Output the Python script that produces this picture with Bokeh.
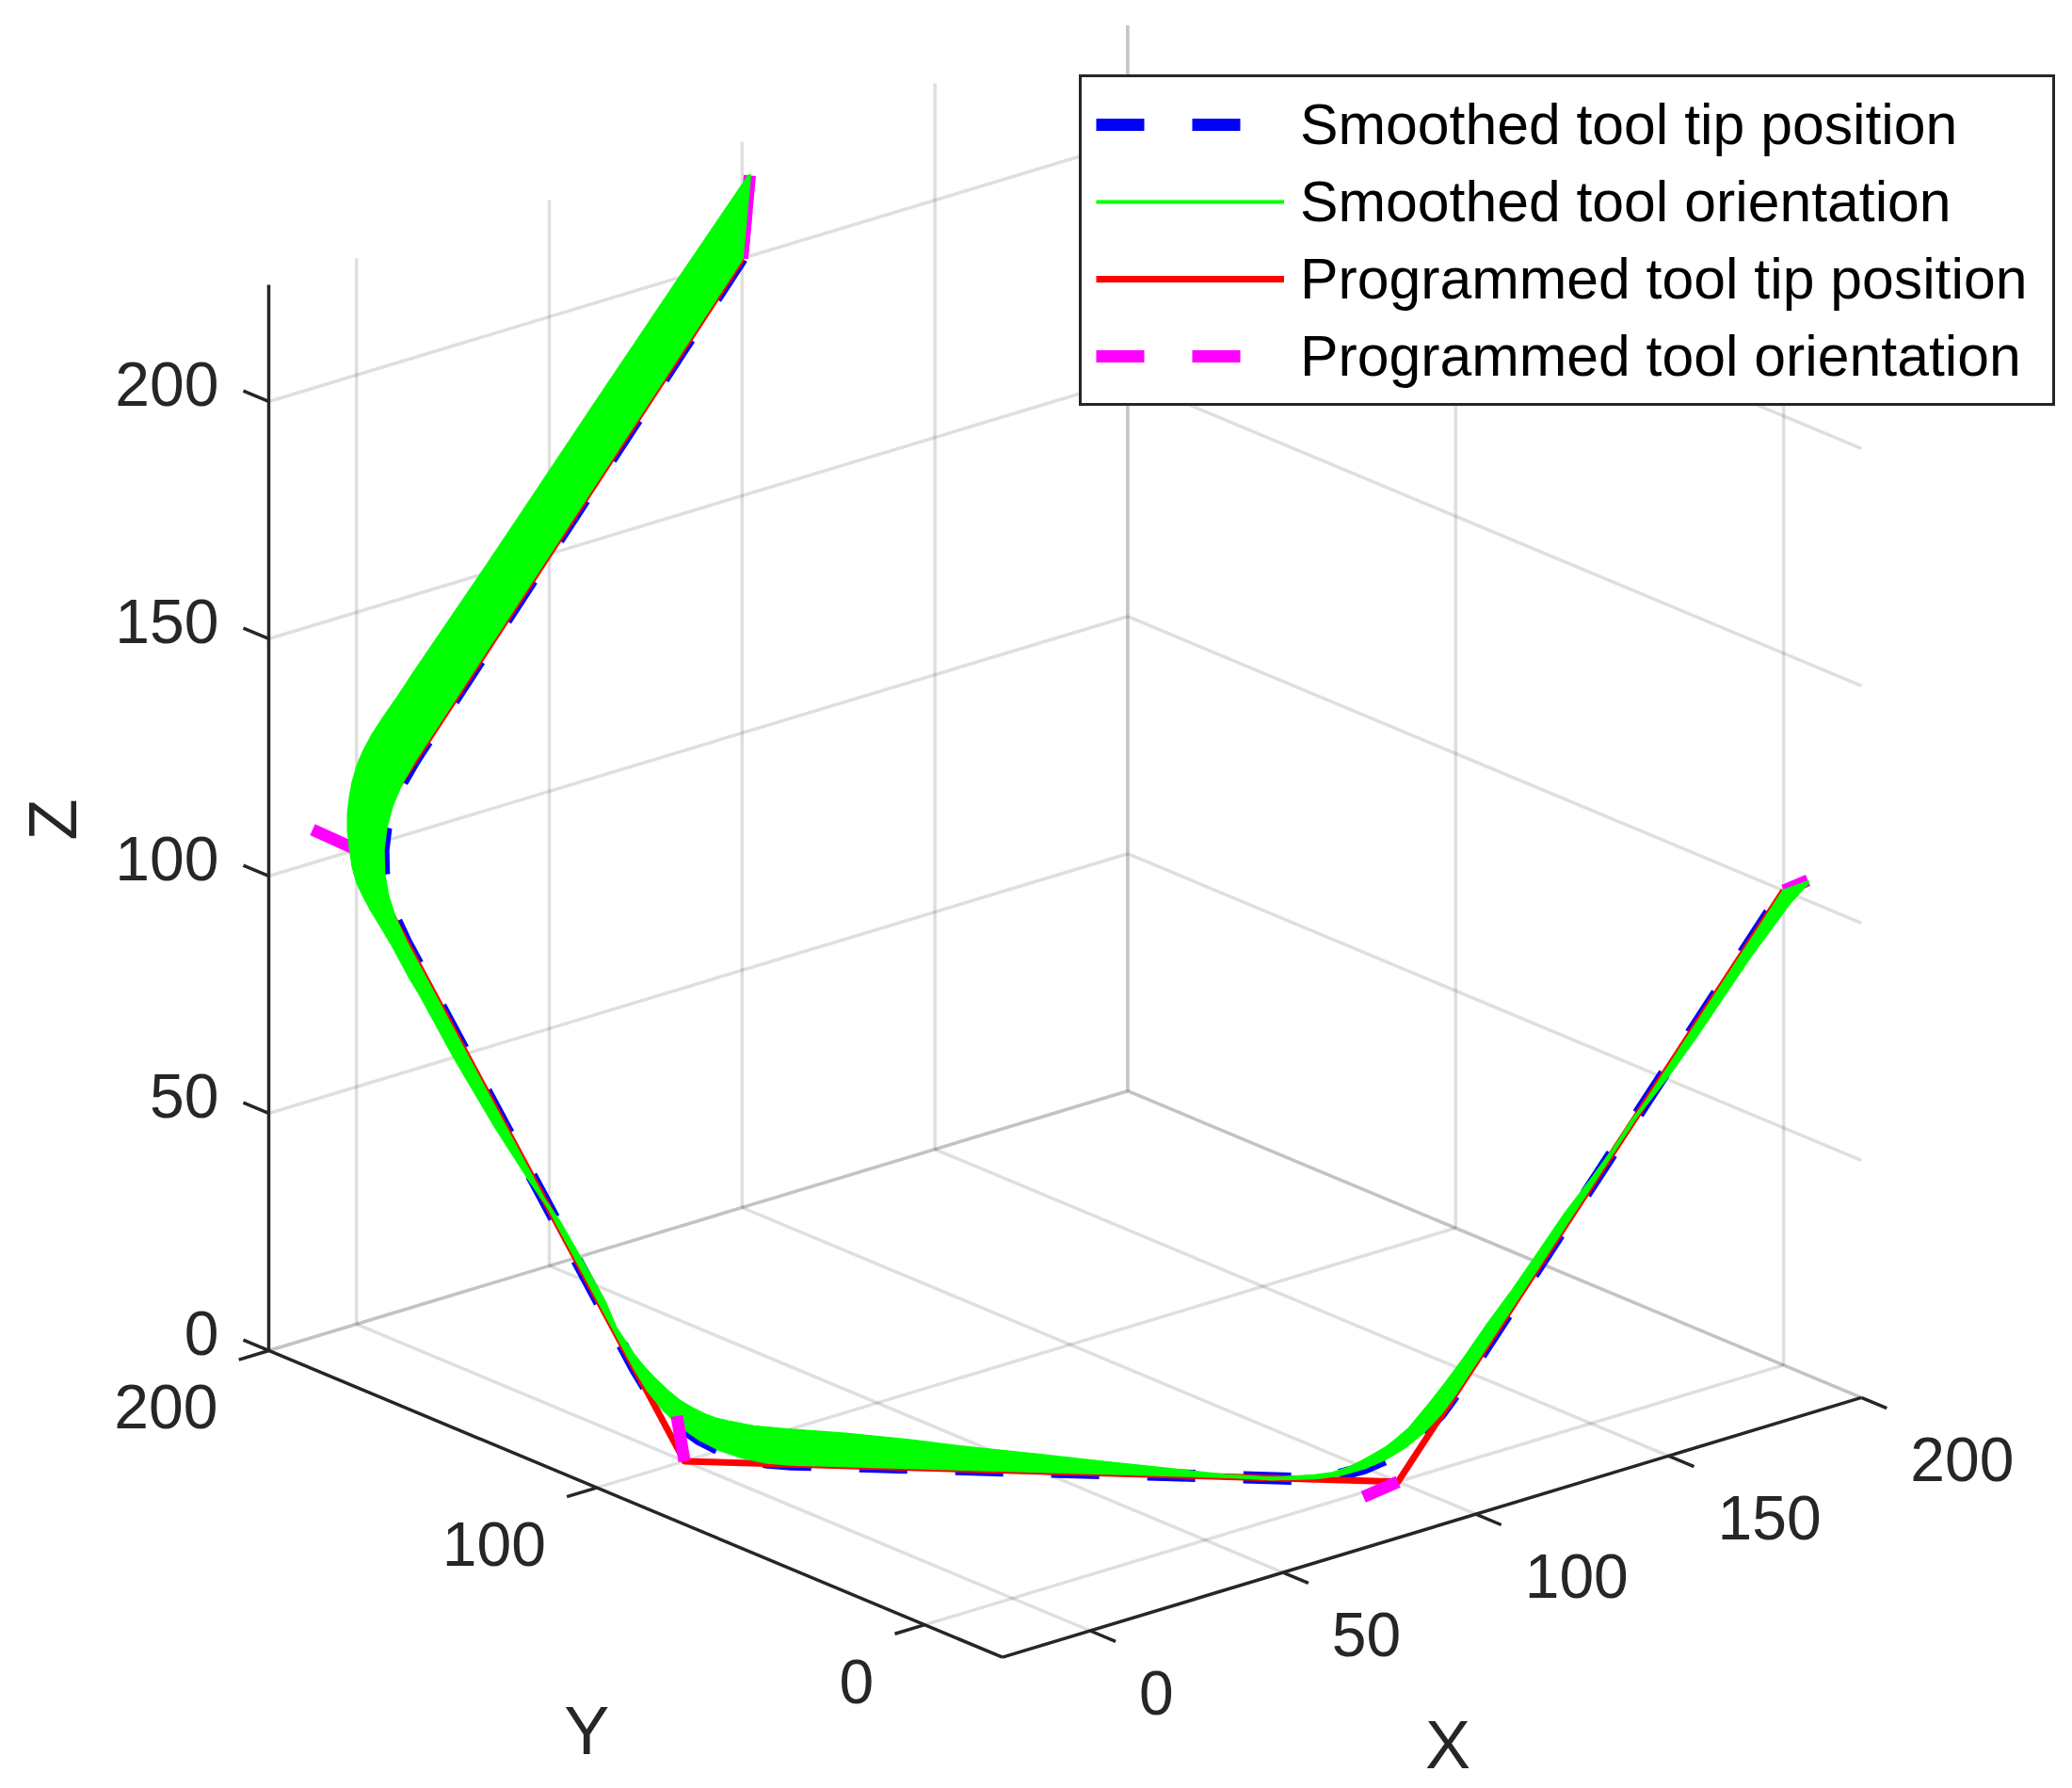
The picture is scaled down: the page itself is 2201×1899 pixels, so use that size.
import numpy as np
from bokeh.core.properties import value
from bokeh.embed import file_html
from bokeh.models import Legend, LegendItem
from bokeh.plotting import figure
from bokeh.resources import INLINE

# axis limits and ticks
x_lim = [-22.76, 200]
y_lim = [-23.7, 200]
z_lim = [0, 224.6]
x_ticks = [0, 50, 100, 150, 200]
y_ticks = [0, 100, 200]
z_ticks = [0, 50, 100, 150, 200]

# programmed tool tip path
prog_x = [100, 0, 0, 100, 200]
prog_y = [200, 200, 100, 0, 0]
prog_z = [200, 100, 0, 0, 100]

# far end of the programmed tool orientation at each programmed point
ori_x = [102, -8, -2, 91, 206.3]
ori_y = [200, 204, 100, 0, 0]
ori_z = [217, 105, 10, -1, 100.6]

# smoothed tool tip
tip_x = [100, 15, 11.48, 8.44, 5.86, 3.75, 2.11, 0.94, 0.23, 0,
         0, 0.23, 0.94, 2.11, 3.75, 5.86, 8.44, 11.48, 15,
         85, 88.75, 92.5, 96.25, 100, 103.75, 107.5, 111.25, 115, 200]
tip_y = [200, 200, 199.77, 199.06, 197.89, 196.25, 194.14, 191.56, 188.52, 185,
         115, 111.25, 107.5, 103.75, 100, 96.25, 92.5, 88.75, 85,
         15, 11.48, 8.44, 5.86, 3.75, 2.11, 0.94, 0.23, 0, 0]
tip_z = [200, 115, 111.25, 107.5, 103.75, 100, 96.25, 92.5, 88.75, 85,
         15, 11.48, 8.44, 5.86, 3.75, 2.11, 0.94, 0.23, 0,
         0, 0.23, 0.94, 2.11, 3.75, 5.86, 8.44, 11.48, 15, 100]

# far end of the smoothed tool orientation
end_x = [102, 83.7, 62.4, 34, 15.1, 10.9, 9, 7, 4.3, 2.1, 0.4, -0.8, -1.5, -2, -2, -1.5, -0.8, 0.4,
         0, 0, 0, 0, 0, 0, 0, 0, 0, 0, 0, 0, 0, 0, 0, 0, 0, 0, 0, 0, 0, 0,
         4.4, 6.1, 9.7, 14, 22.9, 31.7, 40.4, 49.3, 59, 67.5, 75.8, 82.5, 86.2, 88.3, 90.6, 92.8, 95, 96.7,
         97.2, 100.1, 103, 107.9, 112.8, 117.7, 123.3, 129.9, 135.5, 143.6, 150.1, 155.9, 161.1, 169.9, 177.7, 191.6, 201.7, 206.3]
end_y = [200, 200, 200, 200, 200, 200, 200, 200, 200, 200, 200, 200, 200, 200, 200, 200, 200, 200,
         197.5, 195.2, 192, 188.9, 183.7, 180.3, 169.9, 157.4, 147, 138.3, 131.2, 124.4, 121.1, 115.4, 112.5, 109.6, 105.6, 101.9, 98.2, 94.1, 94.1, 94.1,
         95.6, 93.9, 90.3, 86, 77.1, 68.3, 59.6, 50.7, 41, 32.5, 24.2, 17.5, 13.8, 11.7, 9.4, 7.2, 5, 3.3,
         0, 0, 0, 0, 0, 0, 0, 0, 0, 0, 0, 0, 0, 0, 0, 0, 0, 0]
end_z = [217, 199.6, 179.1, 151.5, 133.6, 129.4, 127.7, 125.8, 123.1, 120.3, 117.5, 114.4, 111.4, 108.2, 104.4, 100.7, 96.6, 92.9,
         90.8, 88.5, 85.8, 83.1, 77.9, 75, 64.8, 53.8, 45.6, 39.4, 32.9, 26.4, 22, 17.7, 16.1, 14.8, 13.3, 12.2, 11.7, 11.5, 11.5, 11.5,
         9, 8.5, 7.6, 7.2, 6.6, 5.6, 4.4, 3.4, 2.2, 1.2, 0.2, -0.1, 0.4, 0.7, 1.2, 2.3, 4, 5.5,
         7.9, 9.1, 10.4, 14, 17.9, 22.1, 27.3, 33, 38.2, 45.9, 51.2, 56.2, 61.4, 68.4, 75.4, 88.7, 97.3, 100.3]

legend_labels = ["Smoothed tool tip position", "Smoothed tool orientation",
                 "Programmed tool tip position", "Programmed tool orientation"]

FONT = value("Liberation Sans")
TEXT = "#262626"
DASH = [51, 51]
TICK = 7.75
WIDTH, HEIGHT = 2185, 1895


def project(x, y, z):
    # matlab view(3) style orthographic projection, to page pixels
    x, y, z = np.asarray(x, float), np.asarray(y, float), np.asarray(z, float)
    return 1075 + 4.096 * x - 3.484 * y, 1697 - 1.238 * x - 1.456 * y - 5.04 * z


def seg(x0, y0, z0, x1, y1, z1):
    sx, sy = project([x0, x1], [y0, y1], [z0, z1])
    return list(sx), list(sy)


p = figure(width=WIDTH, height=HEIGHT, x_range=(0, WIDTH), y_range=(HEIGHT, 0),
           output_backend="svg", toolbar_location=None,
           x_axis_location=None, y_axis_location=None, min_border=0)
p.grid.visible = False
p.outline_line_color = None

# -----[grid on floor and the two back walls]-----
grid = []
for v in x_ticks:
    grid.append(seg(v, y_lim[0], 0, v, y_lim[1], 0))
    grid.append(seg(v, y_lim[1], z_lim[0], v, y_lim[1], z_lim[1]))
for v in y_ticks:
    grid.append(seg(x_lim[0], v, 0, x_lim[1], v, 0))
    grid.append(seg(x_lim[1], v, z_lim[0], x_lim[1], v, z_lim[1]))
for v in z_ticks:
    grid.append(seg(x_lim[0], y_lim[1], v, x_lim[1], y_lim[1], v))
    grid.append(seg(x_lim[1], y_lim[0], v, x_lim[1], y_lim[1], v))
p.multi_line([g[0] for g in grid], [g[1] for g in grid], line_color=TEXT, line_alpha=0.15, line_width=3.5)

# -----[axis lines and ticks]-----
axes = [seg(x_lim[0], y_lim[0], 0, x_lim[1], y_lim[0], 0),
        seg(x_lim[0], y_lim[0], 0, x_lim[0], y_lim[1], 0),
        seg(x_lim[0], y_lim[1], z_lim[0], x_lim[0], y_lim[1], z_lim[1])]
for v in x_ticks:
    axes.append(seg(v, y_lim[0], 0, v, y_lim[0] - TICK, 0))
for v in y_ticks:
    axes.append(seg(x_lim[0], v, 0, x_lim[0] - TICK, v, 0))
for v in z_ticks:
    axes.append(seg(x_lim[0], y_lim[1], v, x_lim[0], y_lim[1] + TICK, v))
p.multi_line([a[0] for a in axes], [a[1] for a in axes], line_color=TEXT, line_width=3.5)

# -----[tick labels]-----
sx, sy = project(x_ticks, [y_lim[0]] * len(x_ticks), [0] * len(x_ticks))
p.text(sx + 52, sy + 66, text=[str(v) for v in x_ticks], text_font=FONT, text_font_size="66px",
       text_color=TEXT, text_align="left", text_baseline="middle")
sx, sy = project([x_lim[0]] * len(y_ticks), y_ticks, [0] * len(y_ticks))
p.text(sx - 54, sy + 60, text=[str(v) for v in y_ticks], text_font=FONT, text_font_size="66px",
       text_color=TEXT, text_align="right", text_baseline="middle")
sx, sy = project([x_lim[0]] * len(z_ticks), [y_lim[1]] * len(z_ticks), z_ticks)
p.text(sx - 53, sy - 18, text=[str(v) for v in z_ticks], text_font=FONT, text_font_size="66px",
       text_color=TEXT, text_align="right", text_baseline="middle")

# -----[axis labels]-----
sx, sy = project(np.mean(x_lim), y_lim[0], 0)
p.text([sx + 17], [sy + 231], text=["X"], text_font=FONT, text_font_size="72px", text_color=TEXT,
       text_align="center", text_baseline="middle")
sx, sy = project(x_lim[0], np.mean(y_lim), 0)
p.text([sx - 52], [sy + 241], text=["Y"], text_font=FONT, text_font_size="72px", text_color=TEXT,
       text_align="center", text_baseline="middle")
sx, sy = project(x_lim[0], y_lim[1], np.mean(z_lim))
p.text([sx - 229], [sy + 2], text=["Z"], text_font=FONT, text_font_size="72px", text_color=TEXT,
       text_align="center", text_baseline="middle", angle=np.pi / 2)

# -----[paths]-----
tx, ty = project(tip_x, tip_y, tip_z)
ex, ey = project(end_x, end_y, end_z)
gx, gy = project(prog_x, prog_y, prog_z)
ox, oy = project(ori_x, ori_y, ori_z)

r_tip = p.line(tx, ty, line_color="#0000ff", line_width=13, line_dash=DASH, line_join="round")
r_prog = p.line(gx, gy, line_color="#ff0000", line_width=7, line_join="round")

# orientation marks: 0, 1 and 4 sit behind the green ribbon, 2 and 3 in front
r_ori = p.line([gx[0], ox[0]], [gy[0], oy[0]], line_color="#ff00ff", line_width=13, line_dash=DASH)
behind = [0, 1, 4]
front = [2, 3]
p.multi_line([[gx[i], ox[i]] for i in behind], [[gy[i], oy[i]] for i in behind], line_color="#ff00ff", line_width=13)

p.patch(np.concatenate([ex, tx[::-1]]), np.concatenate([ey, ty[::-1]]), fill_color="#00ff00",
        line_color="#00ff00", line_width=3, line_join="round")
r_end = p.line(ex, ey, line_color="#00ff00", line_width=4, line_join="round")

p.multi_line([[gx[i], ox[i]] for i in front], [[gy[i], oy[i]] for i in front], line_color="#ff00ff", line_width=13)

# -----[legend]-----
items = [LegendItem(label=l, renderers=[r]) for l, r in zip(legend_labels, [r_tip, r_end, r_prog, r_ori])]
legend = Legend(items=items, location=(1146, HEIGHT - 431), glyph_width=200, glyph_height=40, label_standoff=17,
                label_text_font="Liberation Sans", label_text_font_size="60.7px", label_text_color="#000000",
                label_height=60, label_width=784, spacing=12, padding=15, margin=0,
                border_line_color="#262626", border_line_alpha=1, border_line_width=3, background_fill_alpha=1)
p.add_layout(legend)

open("out.html", "w").write(file_html(p, INLINE))
